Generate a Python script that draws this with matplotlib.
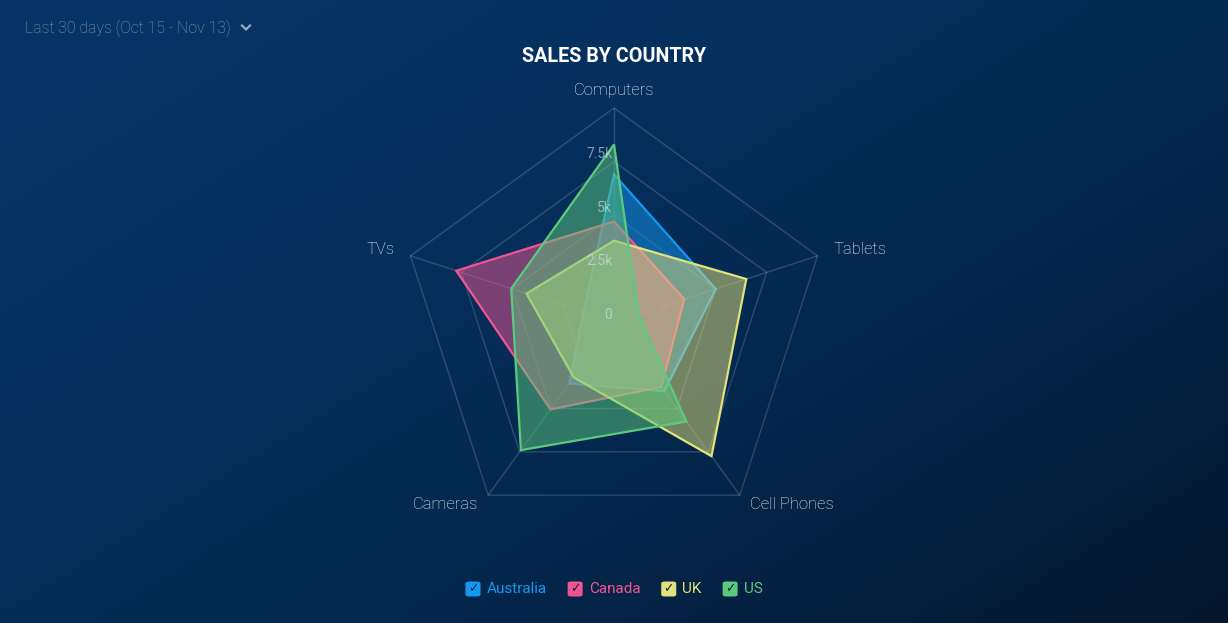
import numpy as np
import matplotlib
matplotlib.use("Agg")
import matplotlib.pyplot as plt
from matplotlib.patches import Polygon, FancyBboxPatch
from matplotlib.lines import Line2D

plt.rcParams['font.family'] = ['Roboto', 'DejaVu Sans']

# ---------------- data ----------------
categories = ["Computers", "Tablets", "Cell Phones", "Cameras", "TVs"]
australia = [6.9, 5.0, 4.0, 3.55, 1.5]
canada = [4.7, 3.45, 3.75, 5.05, 7.75]
uk = [3.8, 6.5, 7.75, 3.2, 4.3]
us = [8.3, 1.2, 5.75, 7.4, 5.05]
series_names = ["Australia", "Canada", "UK", "US"]
series_values = [australia, canada, uk, us]
series_colors = ["#1497ee", "#ef5590", "#e2e27a", "#5cc97c"]
tick_values = [0, 2.5, 5, 7.5]
tick_labels = ["0", "2.5k", "5k", "7.5k"]
rmax = 10.0
title = "SALES BY COUNTRY"
subtitle = "Last 30 days (Oct 15 - Nov 13)"

W, H = 1228, 623
fig = plt.figure(figsize=(W / 100, H / 100), dpi=100)

# background gradient
bg = fig.add_axes([0, 0, 1, 1])
bg.set_axis_off()
yy, xx = np.mgrid[0:1:200j, 0:1:400j]
t = np.clip((xx * 0.55 + yy * 0.45), 0, 1) ** 1.8
c0 = np.array([6, 52, 102]) / 255
c1 = np.array([3, 22, 44]) / 255
img = c0[None, None, :] * (1 - t[..., None]) + c1[None, None, :] * t[..., None]
bg.imshow(img, extent=[0, 1, 0, 1], aspect='auto', origin='upper')
bg.set_xlim(0, 1)
bg.set_ylim(0, 1)

# radar axes (cartesian, equal scale)
cx, cy = 614, 322          # centre in pixels (from top)
px_per_unit = 21.4
half = 12.5
hp = half * px_per_unit
ax = fig.add_axes([(cx - hp) / W, (H - cy - hp) / H, 2 * hp / W, 2 * hp / H])
ax.set_xlim(-half, half)
ax.set_ylim(-half, half)
ax.set_axis_off()
ax.patch.set_alpha(0)

n = len(categories)
angles = np.pi / 2 - np.arange(n) * 2 * np.pi / n

grid_col = (1, 1, 1, 0.16)
for frac in [0.25, 0.5, 0.75, 1.0]:
    r = rmax * frac
    xs = r * np.cos(angles)
    ys = r * np.sin(angles)
    ax.add_patch(Polygon(np.c_[xs, ys], closed=True, fill=False,
                         edgecolor=grid_col, lw=1, zorder=1))
for a in angles:
    ax.plot([0, rmax * np.cos(a)], [0, rmax * np.sin(a)], color=grid_col, lw=1, zorder=1)

# series (later datasets drawn on top)
for i in range(len(series_names)):
    vals = np.array(series_values[i])
    xs = vals * np.cos(angles)
    ys = vals * np.sin(angles)
    col = series_colors[i]
    ax.add_patch(Polygon(np.c_[xs, ys], closed=True, facecolor=col, alpha=0.5,
                         edgecolor='none', zorder=2 + i))
    ax.add_patch(Polygon(np.c_[xs, ys], closed=True, fill=False,
                         edgecolor=col, lw=1.6, zorder=2 + i))

# tick labels
for v, lab in zip(tick_values, tick_labels):
    ax.text(-0.08, v + 0.33, lab, ha='right', va='center', fontsize=10,
            color=(0.86, 0.89, 0.93, 0.6), zorder=10)

# category labels
lab_r = 10.8
specs = {0: ('center', 0.0), 1: ('left', 0.05), 2: ('left', 0.2),
         3: ('right', 0.2), 4: ('right', 0.05)}
for k, (cat, a) in enumerate(zip(categories, angles)):
    ha, dy = specs[k]
    x = lab_r * np.cos(a)
    y = lab_r * np.sin(a) + dy
    if k == 0:
        y = rmax + 0.8
    ax.text(x, y, cat, ha=ha, va='center', fontsize=12, color='#f0f3f8',
            zorder=10, fontweight='light')

# title & subtitle
fig.text(cx / W, 1 - 56 / H, title, ha='center', va='center', fontsize=14.2,
         fontweight='bold', color='white')
fig.text(25 / W, 1 - 28 / H, subtitle, ha='left', va='center', fontsize=11.4,
         color='#8699b2', fontweight='light')
chev_x = np.array([242, 246, 250]) / W
chev_y = 1 - np.array([25.5, 29.5, 25.5]) / H
fig.add_artist(Line2D(chev_x, chev_y, color='#9aabc0', lw=1.6,
                      transform=fig.transFigure))

# legend
renderer = fig.canvas.get_renderer()
box = 15
gap_txt = 6
gap_item = 21
ly = 589
items = []
total = 0
for name, col in zip(series_names, series_colors):
    t_ = fig.text(0, 0, name, fontsize=11)
    w = t_.get_window_extent(renderer).width
    t_.remove()
    items.append((name, col, w))
    total += box + gap_txt + w
total += gap_item * (len(items) - 1)
x0 = cx - total / 2
for name, col, w in items:
    fig.add_artist(FancyBboxPatch(((x0) / W, 1 - (ly + box / 2) / H), box / W, box / H,
                                  boxstyle="round,pad=0,rounding_size=0.003",
                                  transform=fig.transFigure, facecolor=col,
                                  edgecolor='none'))
    fig.text((x0 + box / 2) / W, 1 - ly / H, "\u2713", ha='center', va='center',
             fontsize=9, color='#0b2340', family=['DejaVu Sans'], fontweight='bold')
    fig.text((x0 + box + gap_txt) / W, 1 - ly / H, name, ha='left', va='center',
             fontsize=11, color=col)
    x0 += box + gap_txt + w + gap_item

fig.savefig("out.png", dpi=100)
